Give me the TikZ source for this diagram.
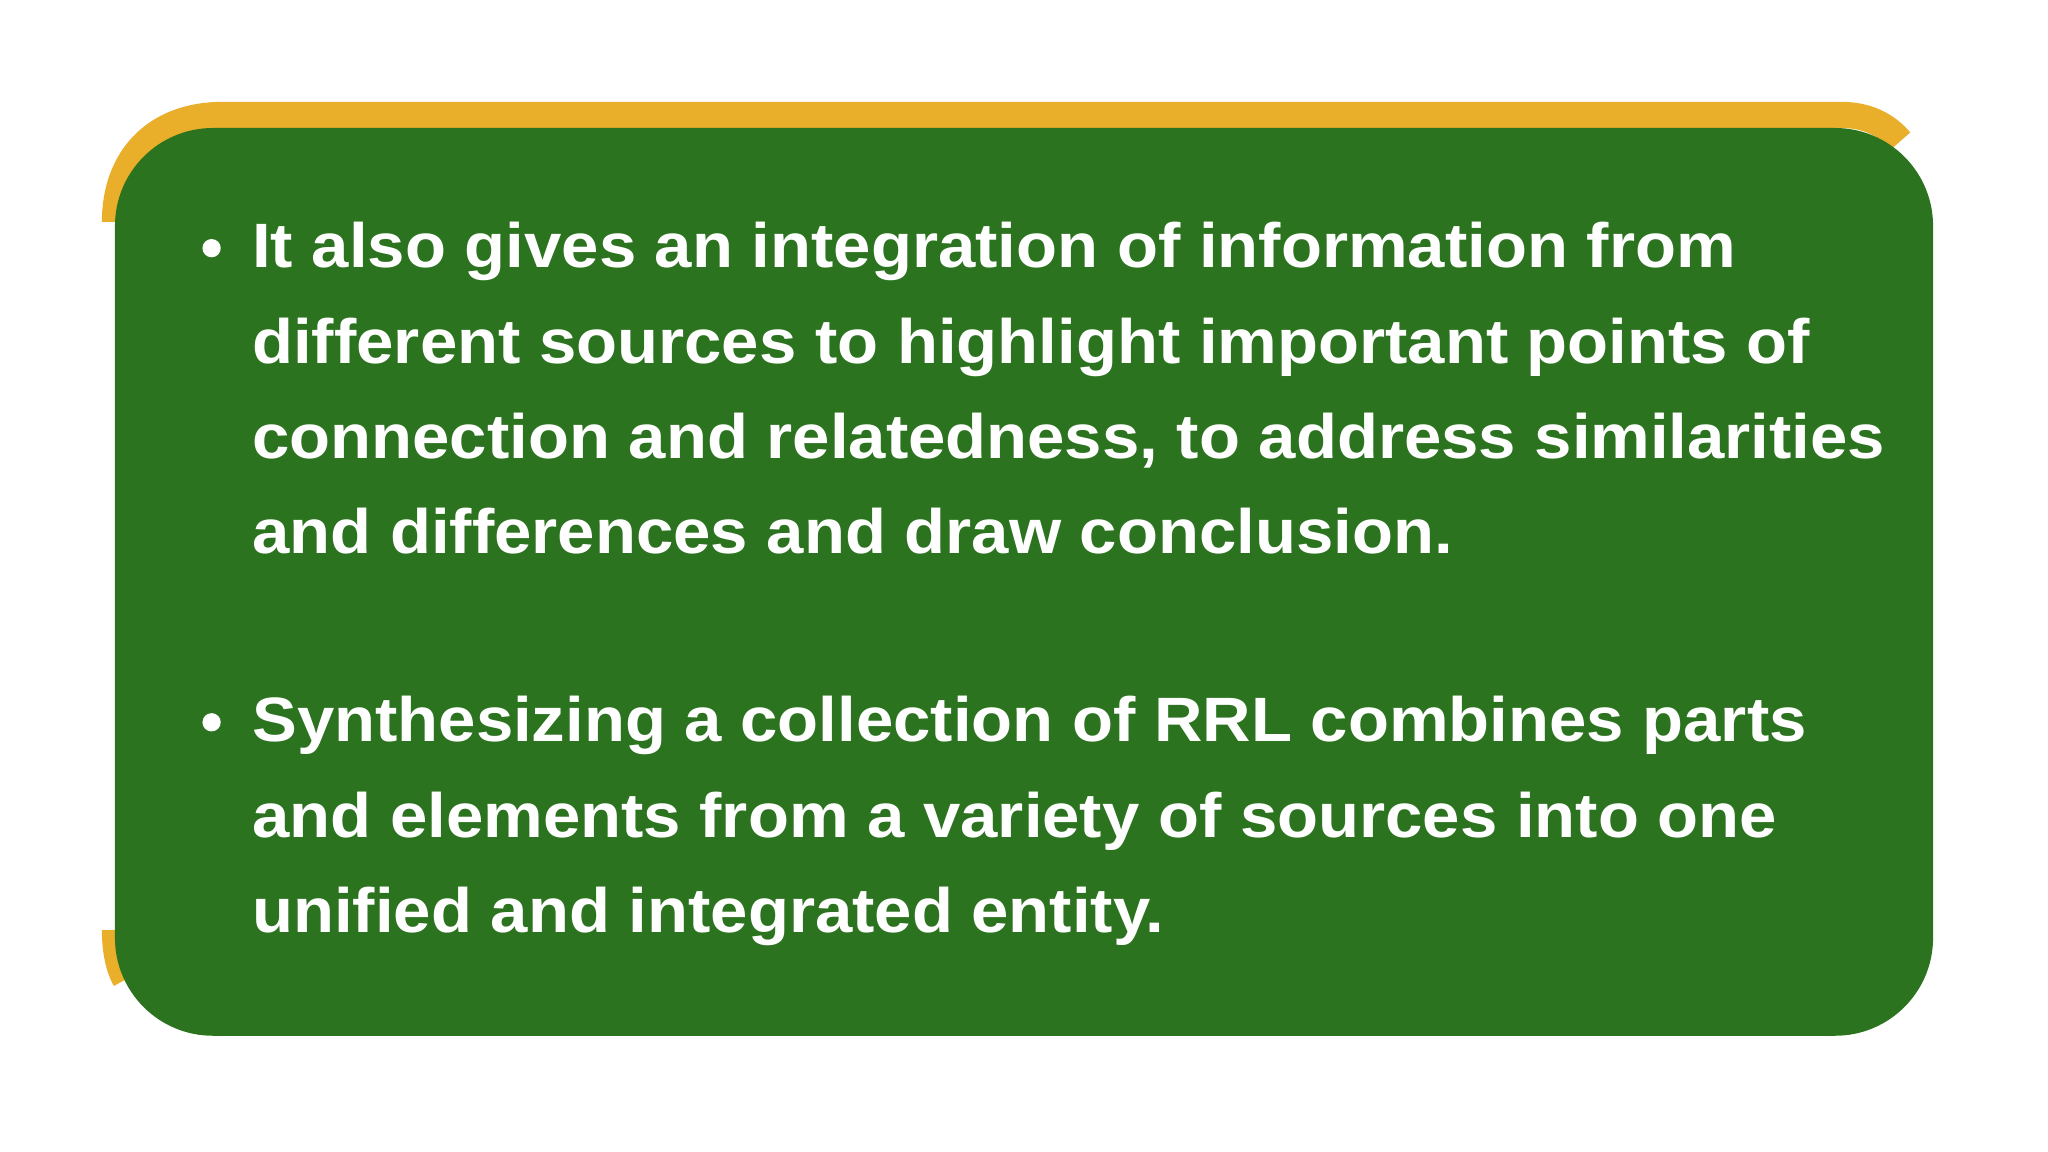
\documentclass[tikz,border=0pt]{standalone}
\usepackage{fontspec}
\setmainfont{Liberation Sans}
\newfontfamily\wideb[FakeStretch=1.07]{Liberation Sans Bold}
\definecolor{gbox}{HTML}{2C7320}
\definecolor{obar}{HTML}{E9AE2A}
\begin{document}
\begin{tikzpicture}[x=1pt,y=-1pt,
  txt/.style={anchor=base west,text=white,font=\wideb\fontsize{48}{58}\selectfont,inner sep=0pt},
  dot/.style={circle,fill=white,inner sep=0pt,minimum size=14pt}]
\useasboundingbox (0,0) rectangle (1568,882);
\fill[white] (0,0) rectangle (1568,882);
\draw[obar,line width=20pt] (88,170) .. controls (88,120) and (120,88) .. (170,88) -- (1410,88) .. controls (1430,88) and (1445,96) .. (1455,108);
\draw[obar,line width=20pt] (88,712) .. controls (88,725) and (90,740) .. (96,750);
\fill[gbox,rounded corners=75pt] (88,98) rectangle (1480,793);
\fill[gbox] (88,180) rectangle (160,720);
\node[dot] (b1) at (162,190) {};
\node[dot] (b2) at (162,553) {};
\node[txt] (l1) at (193,205) {It also gives an integration of information from};
\node[txt] (l2) at (193,278) {different sources to highlight important points of};
\node[txt] (l3) at (193,351) {connection and relatedness, to address similarities};
\node[txt] (l4) at (193,424) {and differences and draw conclusion.};
\node[txt] (m1) at (193,568) {Synthesizing a collection of RRL combines parts};
\node[txt] (m2) at (193,641) {and elements from a variety of sources into one};
\node[txt] (m3) at (193,714) {unified and integrated entity.};
\end{tikzpicture}
\end{document}
